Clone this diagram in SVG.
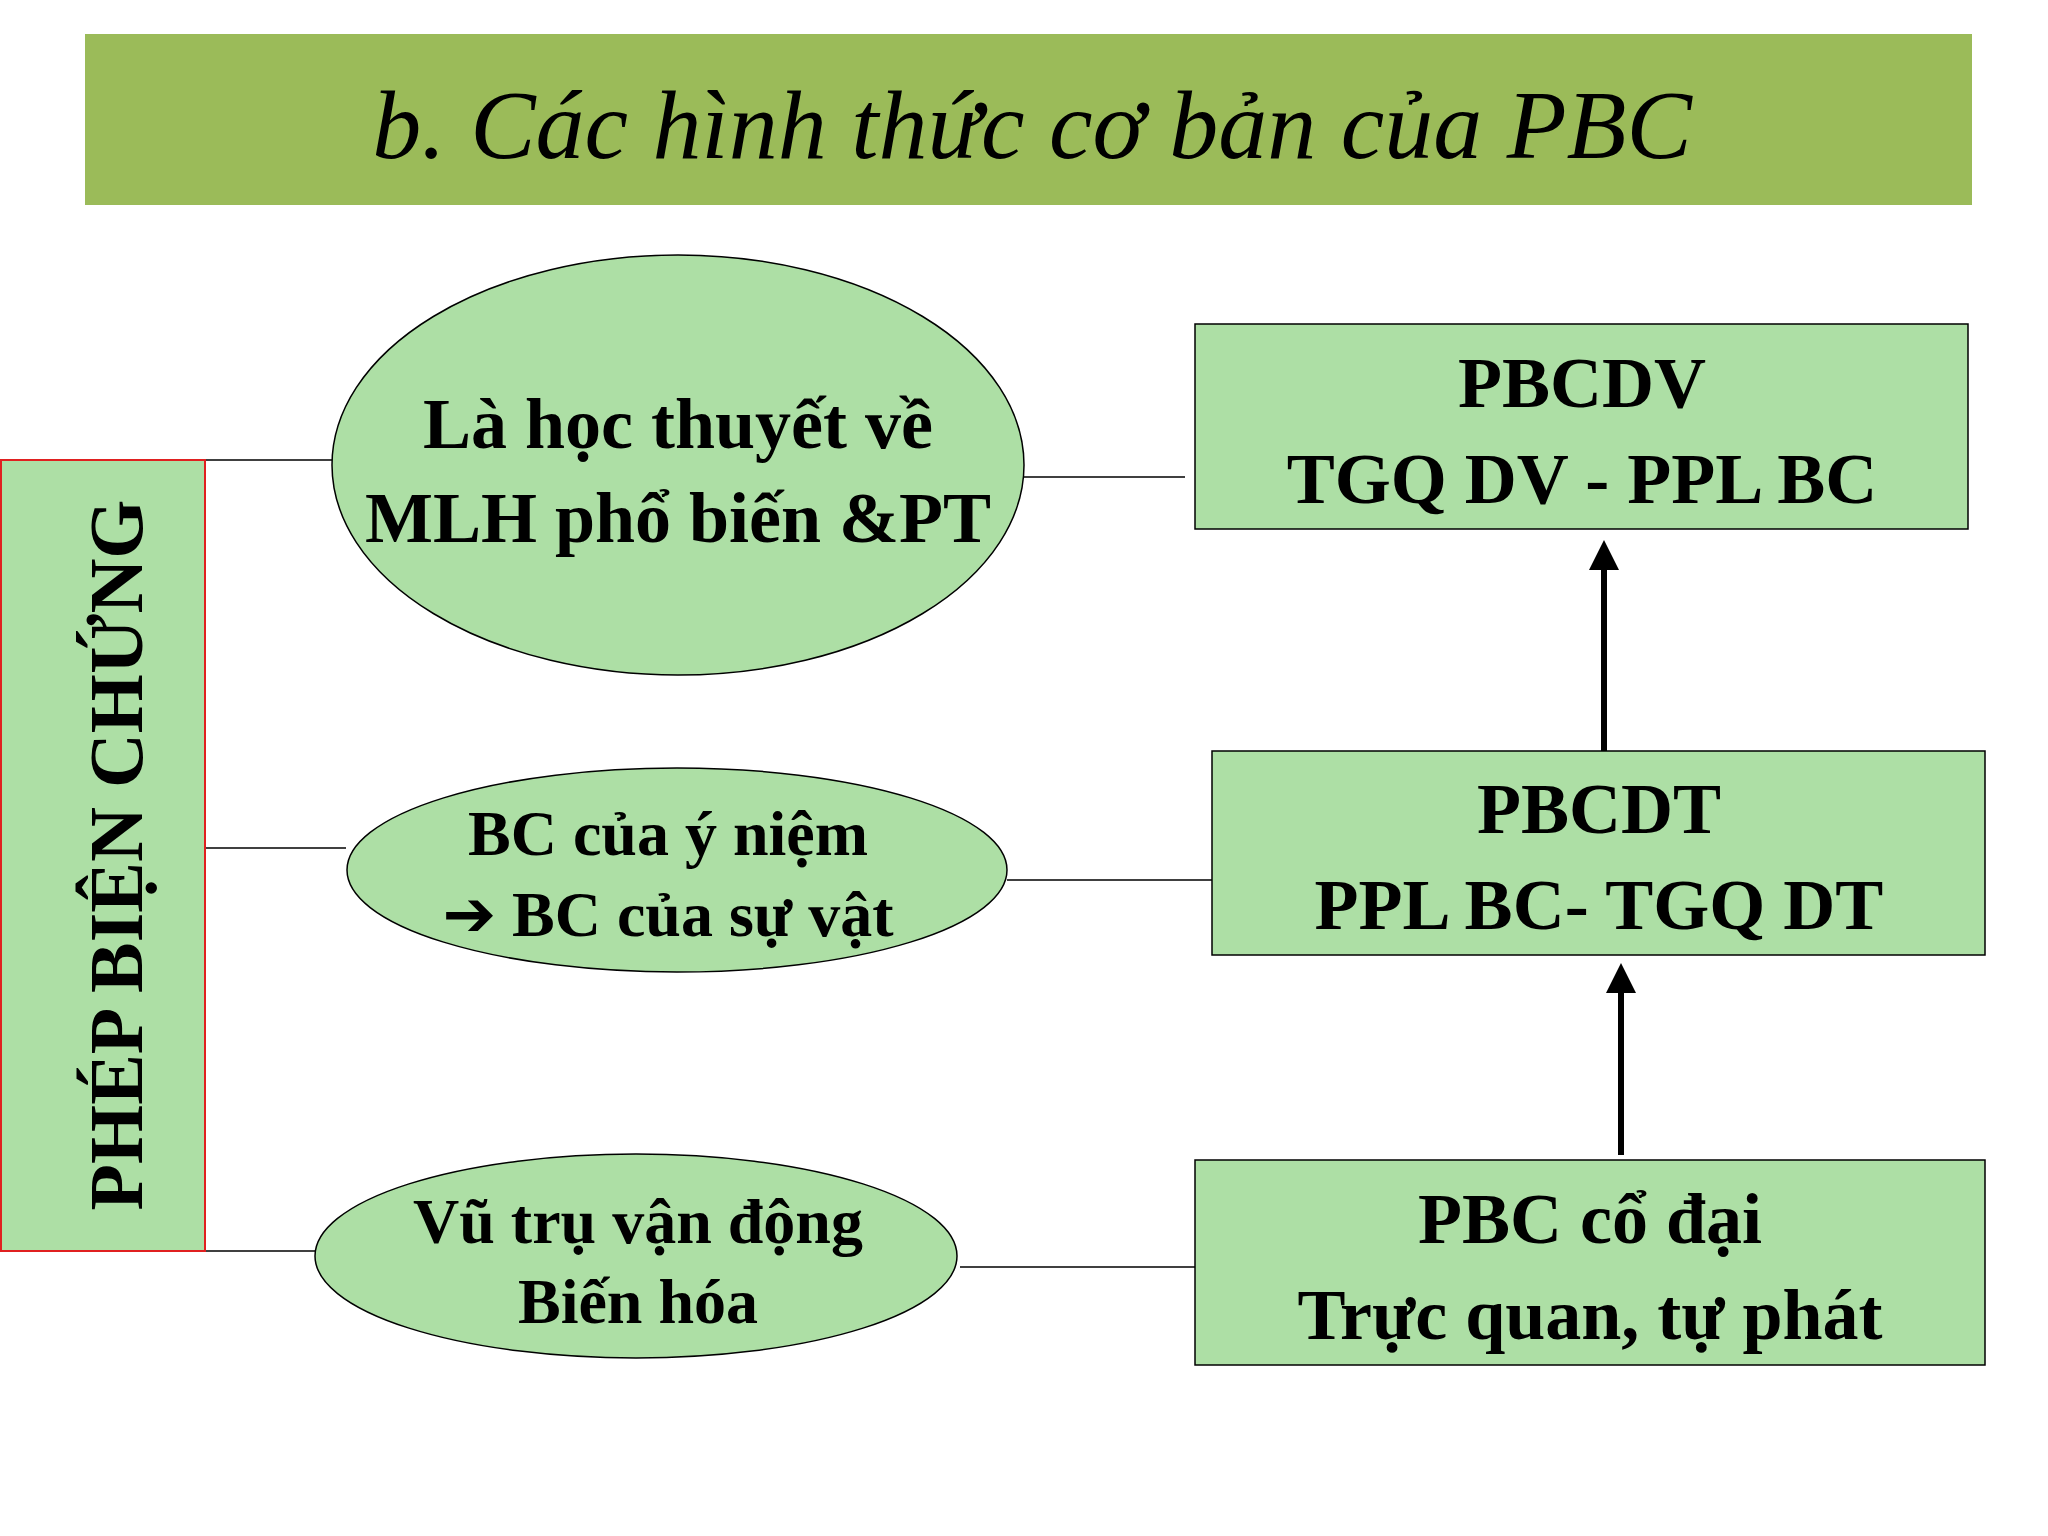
<svg xmlns="http://www.w3.org/2000/svg" width="2048" height="1536" viewBox="0 0 2048 1536">
<defs>
<style>
.n{fill:#ADDFA5;stroke:#000;stroke-width:1.5}
.t{font-family:"Liberation Serif","Times New Roman",serif;font-weight:bold;text-anchor:middle;fill:#000}
.c{stroke:#000;stroke-width:1.5;fill:none}
.a{stroke:#000;stroke-width:6;fill:none;marker-end:url(#ah)}
</style>
<marker id="ah" markerWidth="5" markerHeight="5" refX="2.5" refY="2.5" orient="auto"><path d="M0,0L5,2.5L0,5z" fill="#000"/></marker>
</defs>
<rect width="2048" height="1536" fill="#fff"/>
<g id="title">
<rect x="85" y="34" width="1887" height="171" fill="#9BBB59"/>
<text x="1032" y="158" font-family="Liberation Serif,serif" font-style="italic" font-size="98" text-anchor="middle" fill="#000">b. Các hình thức cơ bản của PBC</text>
</g>
<g id="connectors">
<line class="c" x1="205" y1="460" x2="332" y2="460"/>
<line class="c" x1="205" y1="848" x2="346" y2="848"/>
<line class="c" x1="205" y1="1251" x2="316" y2="1251"/>
<line class="c" x1="1024" y1="477" x2="1185" y2="477"/>
<line class="c" x1="1007" y1="880" x2="1217" y2="880"/>
<line class="c" x1="960" y1="1267" x2="1199" y2="1267"/>
<line class="a" x1="1604" y1="751" x2="1604" y2="555"/>
<line class="a" x1="1621" y1="1155" x2="1621" y2="978"/>
</g>
<g id="left">
<rect x="1" y="460" width="204" height="791" fill="#ADDFA5" stroke="#E02020" stroke-width="2"/>
<text class="t" font-size="76" transform="translate(142,855) rotate(-90)">PHÉP BIỆN CHỨNG</text>
</g>
<g id="e1">
<ellipse class="n" cx="678" cy="465" rx="346" ry="210"/>
<text class="t" font-size="72" x="678" y="448">Là học thuyết về</text>
<text class="t" font-size="72" x="678" y="542">MLH phổ biến &amp;PT</text>
</g>
<g id="e2">
<ellipse class="n" cx="677" cy="870" rx="330" ry="102"/>
<text class="t" font-size="64" x="668" y="855">BC của ý niệm</text>
<text class="t" font-size="64" x="668" y="936"><tspan font-family="DejaVu Sans,sans-serif">➔</tspan> BC của sự vật</text>
</g>
<g id="e3">
<ellipse class="n" cx="636" cy="1256" rx="321" ry="102"/>
<text class="t" font-size="64" x="638" y="1243">Vũ trụ vận động</text>
<text class="t" font-size="64" x="638" y="1323">Biến hóa</text>
</g>
<g id="r1">
<rect class="n" x="1195" y="324" width="773" height="205"/>
<text class="t" font-size="72" x="1582" y="407">PBCDV</text>
<text class="t" font-size="72" x="1582" y="503">TGQ DV - PPL BC</text>
</g>
<g id="r2">
<rect class="n" x="1212" y="751" width="773" height="204"/>
<text class="t" font-size="72" x="1599" y="833">PBCDT</text>
<text class="t" font-size="72" x="1599" y="929">PPL BC- TGQ DT</text>
</g>
<g id="r3">
<rect class="n" x="1195" y="1160" width="790" height="205"/>
<text class="t" font-size="72" x="1590" y="1243">PBC cổ đại</text>
<text class="t" font-size="72" x="1590" y="1339">Trực quan, tự phát</text>
</g>
</svg>
